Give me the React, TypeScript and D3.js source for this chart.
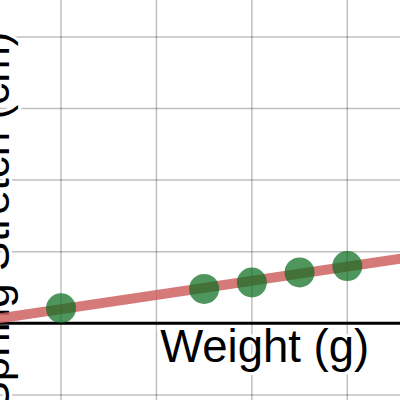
import React from 'react';
import * as d3 from 'd3';

const weights = [100, 250, 300, 350, 400];
const stretches = [0.21, 0.48, 0.57, 0.71, 0.8];
const xGridValues = [0, 100, 200, 300, 400, 500];
const yGridValues = [-1, 0, 1, 2, 3, 4];
const xLabel = 'Weight (g)';
const yLabel = 'Spring Stretch (cm)';

const W = 400;
const H = 400;
const FONT = '"Liberation Sans", Arial, sans-serif';

const App = () => {
  const xScale = d3.scaleLinear().domain([100, 400]).range([61, 347.3]);
  const yScale = d3.scaleLinear().domain([0, 4]).range([323.3, 36.9]);

  const data = weights.map((w, i) => ({ w, s: stretches[i] }));

  // least squares fit
  const mx = d3.mean(weights) as number;
  const my = d3.mean(stretches) as number;
  const sxy = d3.sum(data, (d) => (d.w - mx) * (d.s - my));
  const sxx = d3.sum(data, (d) => (d.w - mx) ** 2);
  const slope = sxy / sxx;
  const intercept = my - slope * mx;
  const fitEnds = [xScale.invert(-10), xScale.invert(W + 10)].map((w) => ({ w, s: intercept + slope * w }));

  const fitPath = d3.line<{ w: number; s: number }>()
    .x((d) => xScale(d.w))
    .y((d) => yScale(d.s))(fitEnds) as string;

  const green = '#0a6e1e';

  return (
    <>
      <style>{'body{margin:0}'}</style>
      <svg width={W} height={H} style={{ display: 'block' }}>
        <rect width={W} height={H} fill="#fff" />
        {xGridValues.map((v) => (
          <line key={`x${v}`} x1={xScale(v)} x2={xScale(v)} y1={0} y2={H} stroke="#000" strokeOpacity={0.25} strokeWidth={1.5} />
        ))}
        {yGridValues.map((v) => (
          <line key={`y${v}`} x1={0} x2={W} y1={yScale(v)} y2={yScale(v)} stroke="#000" strokeOpacity={0.25} strokeWidth={1.5} />
        ))}
        <text
          transform="translate(9, 221) rotate(-90)"
          textAnchor="middle"
          fontFamily={FONT}
          fontSize={44}
          fill="#000"
          stroke="#fff"
          strokeWidth={6}
          paintOrder="stroke"
        >
          {yLabel}
        </text>
        <text
          x={264.7}
          y={361.7}
          textAnchor="middle"
          fontFamily={FONT}
          fontSize={45.5}
          fill="#000"
          stroke="#fff"
          strokeWidth={6}
          paintOrder="stroke"
        >
          {xLabel}
        </text>
        <line x1={0} x2={W} y1={yScale(0)} y2={yScale(0)} stroke="#000" strokeWidth={3} />
        <path d={fitPath} fill="none" stroke="#cd5c5c" strokeOpacity={0.82} strokeWidth={10} />
        {data.map((d) => (
          <circle
            key={d.w}
            cx={xScale(d.w)}
            cy={yScale(d.s)}
            r={15}
            fill={green}
            fillOpacity={0.72}
          />
        ))}
      </svg>
    </>
  );
};

export default App;
